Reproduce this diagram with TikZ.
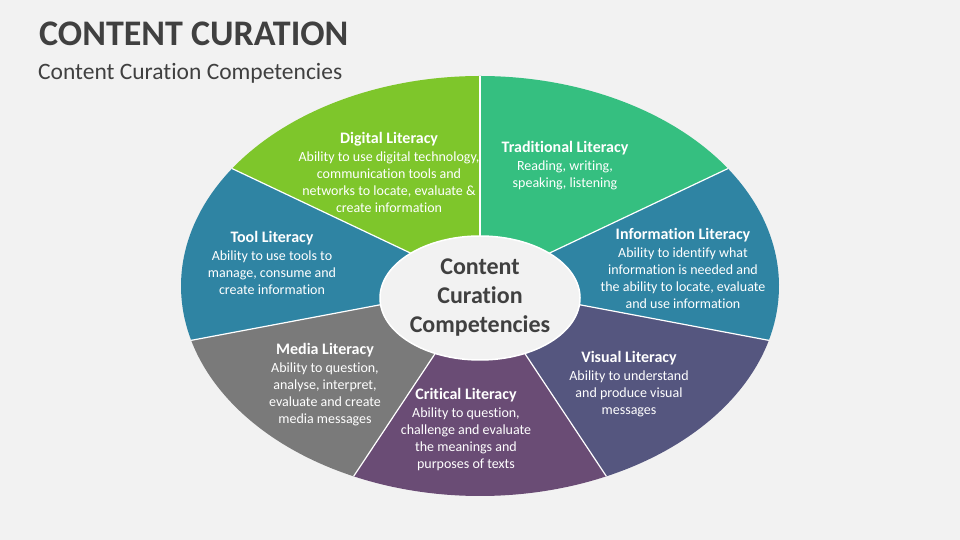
\documentclass[tikz,border=0pt]{standalone}
\usepackage{fontspec}
\usetikzlibrary{shapes.geometric}
\setmainfont[RawFeature=-liga]{Carlito}
\begin{document}
\begin{tikzpicture}[x=1pt,y=1pt,
  lbl/.style={text=white,align=center,anchor=north,inner sep=0pt,font=\fontsize{14}{17}\selectfont},
  sep/.style={draw=white,line width=1.2pt}]
\definecolor{bg}{HTML}{F2F2F2}
\definecolor{cDig}{HTML}{7EC62B}
\definecolor{cTra}{HTML}{35BF80}
\definecolor{cInf}{HTML}{2F84A3}
\definecolor{cVis}{HTML}{55567F}
\definecolor{cCri}{HTML}{6A4C75}
\definecolor{cMed}{HTML}{7A7A7A}
\definecolor{cTool}{HTML}{2F84A3}
\definecolor{ttl}{HTML}{404040}
\fill[bg] (0,0) rectangle (960,540);
\useasboundingbox (0,0) rectangle (960,540);
\node[anchor=west,inner sep=0pt,text=ttl,font=\fontsize{36}{42}\selectfont\bfseries] (title) at (39,506) {CONTENT CURATION};
\node[anchor=west,inner sep=0pt,text=ttl,font=\fontsize{23.5}{28}\selectfont] (sub) at (38,467) {Content Curation Competencies};
\coordinate (c) at (480,254);
\foreach \a/\b/\col in {90/146/cDig,34/90/cTra,-15/34/cInf,-65/-15/cVis,-115/-65/cCri,-165/-115/cMed,146/195/cTool}{
  \fill[\col] (c) -- ({480+299*cos(\a)},{254+210*sin(\a)}) arc[start angle=\a,end angle=\b,x radius=299,y radius=210] -- cycle;
}
\foreach \a in {90,146,34,-15,-65,-115,-165}{
  \draw[sep] (c) -- ({480+299*cos(\a)},{254+210*sin(\a)});
}
\node[ellipse,minimum width=200,minimum height=124,fill=bg,draw=white,line width=1.5pt,inner sep=0pt,text=ttl,align=center,font=\fontsize{24}{29}\selectfont\bfseries] (center) at (480,242) {Content\\Curation\\Competencies};
\node[lbl] (dig) at (389,408) {\textbf{\fontsize{16}{19}\selectfont Digital Literacy}\\[1pt]Ability to use digital technology,\\communication tools and\\networks to locate, evaluate \&\\create information};
\node[lbl] (tra) at (565,399) {\textbf{\fontsize{16}{19}\selectfont Traditional Literacy}\\[1pt]Reading, writing,\\speaking, listening};
\node[lbl] (inf) at (683,312) {\textbf{\fontsize{16}{19}\selectfont Information Literacy}\\[1pt]Ability to identify what\\information is needed and\\the ability to locate, evaluate\\and use information};
\node[lbl] (tool) at (272,309) {\textbf{\fontsize{16}{19}\selectfont Tool Literacy}\\[1pt]Ability to use tools to\\manage, consume and\\create information};
\node[lbl] (med) at (325,197) {\textbf{\fontsize{16}{19}\selectfont Media Literacy}\\[1pt]Ability to question,\\analyse, interpret,\\evaluate and create\\media messages};
\node[lbl] (cri) at (466,152) {\textbf{\fontsize{16}{19}\selectfont Critical Literacy}\\[1pt]Ability to question,\\challenge and evaluate\\the meanings and\\purposes of texts};
\node[lbl] (vis) at (629,189) {\textbf{\fontsize{16}{19}\selectfont Visual Literacy}\\[1pt]Ability to understand\\and produce visual\\messages};
\end{tikzpicture}
\end{document}
